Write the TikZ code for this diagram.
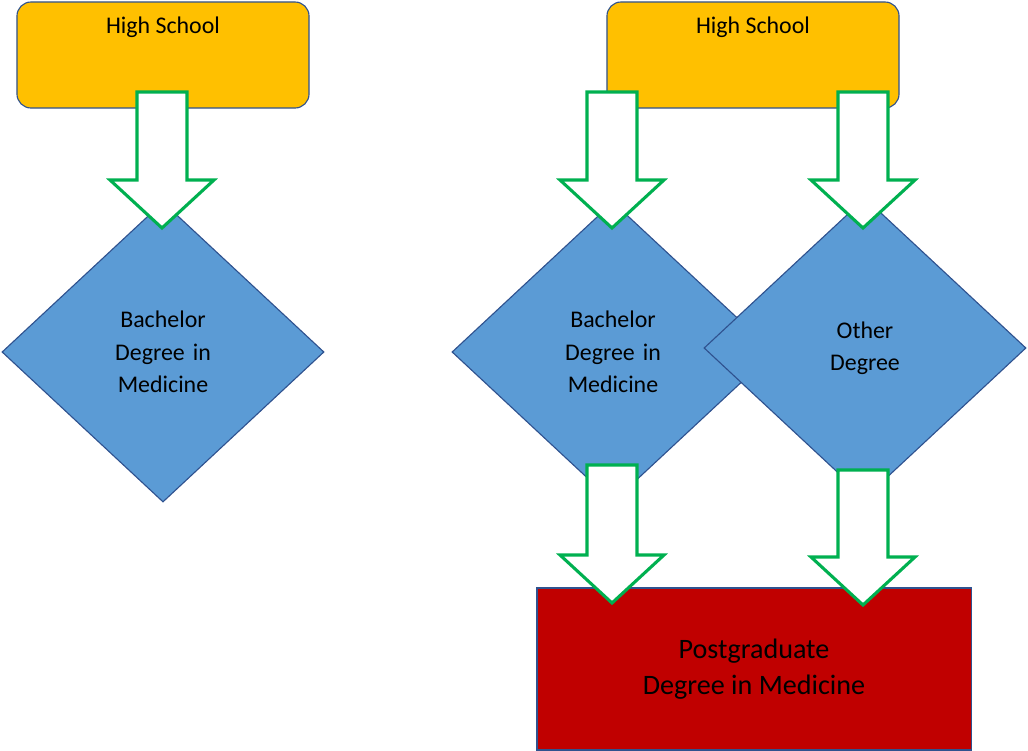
\documentclass[tikz,border=0pt]{standalone}
\usepackage{fontspec}
\setmainfont{Carlito}
\usetikzlibrary{shapes.geometric}
\definecolor{school}{HTML}{FFC000}
\definecolor{degree}{HTML}{5B9BD5}
\definecolor{post}{HTML}{C00000}
\definecolor{rim}{HTML}{2F528F}
\definecolor{arrowgreen}{HTML}{00B050}
\tikzset{
  box/.style={draw=rim, thick, inner sep=0pt, font=\fontsize{17}{20}\selectfont},
  school/.style={box, fill=school, rounded corners=10pt, minimum width=7.3cm, minimum height=2.65cm, text depth=1.5cm},
  choice/.style={box, fill=degree, diamond, aspect=1.07, minimum width=8.05cm, minimum height=7.5cm, align=center, text width=3cm, font=\fontsize{17}{23}\selectfont},
  goal/.style={box, fill=post, minimum width=10.85cm, minimum height=4.05cm, align=center, font=\fontsize{20}{26}\selectfont},
  flow/.style={draw=arrowgreen, fill=white, line width=2.2pt, line join=miter}
}
% block arrow: #1 = top centre, #2 = tip
\newcommand\blockarrow[2]{%
  \draw[flow] ($(#1)+(-25,0)$) -- ($(#2)+(-25,-48)$) -- ($(#2)+(-52,-48)$) -- (#2)
    -- ($(#2)+(52,-48)$) -- ($(#2)+(25,-48)$) -- ($(#1)+(25,0)$) -- cycle;}
\usetikzlibrary{calc}
\begin{document}
\begin{tikzpicture}[x=0.025cm, y=-0.025cm]
  \useasboundingbox (0,0) rectangle (1028,751);
  % left path
  \node[school] (hs1) at (163,55) {High School};
  \node[choice] (bm1) at (163,352) {Bachelor Degree in Medicine};
  % right paths
  \node[school] (hs2) at (753,55) {High School};
  \node[choice] (bm2) at (613,352) {Bachelor Degree in Medicine};
  \node[choice] (od) at (865,348) {Other Degree};
  \node[goal] (pg) at (754,669) {Postgraduate\\Degree in Medicine};
  % arrows
  \coordinate (a1) at (162,92);  \coordinate (t1) at (162,228);
  \coordinate (a2) at (612,92);  \coordinate (t2) at (612,228);
  \coordinate (a3) at (863,92);  \coordinate (t3) at (863,228);
  \coordinate (a4) at (612,465); \coordinate (t4) at (612,603);
  \coordinate (a5) at (863,470); \coordinate (t5) at (863,605);
  \blockarrow{a1}{t1}
  \blockarrow{a2}{t2}
  \blockarrow{a3}{t3}
  \blockarrow{a4}{t4}
  \blockarrow{a5}{t5}
\end{tikzpicture}
\end{document}
